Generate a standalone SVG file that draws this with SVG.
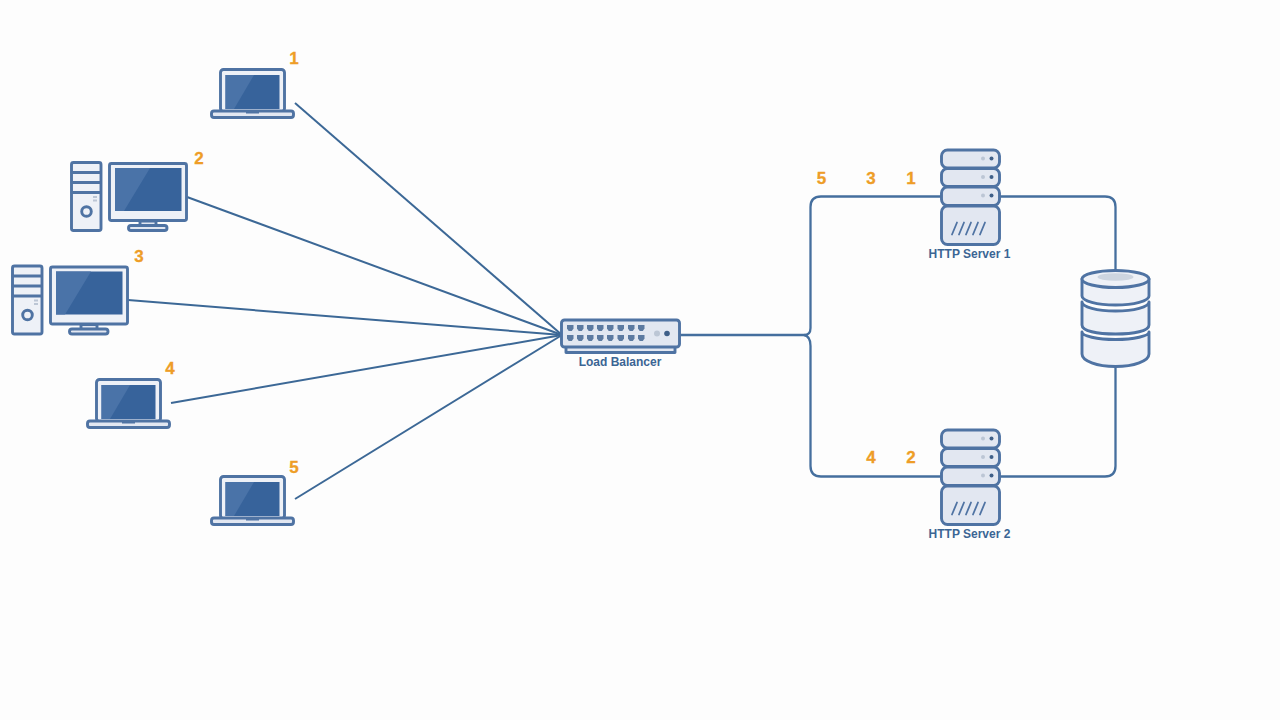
<svg xmlns="http://www.w3.org/2000/svg" width="1280" height="720" viewBox="0 0 1280 720">
<style>
.o{stroke:#4f73a3;stroke-width:2.9;stroke-linejoin:round;stroke-linecap:round}
.f{fill:#eef1f7}
.m{fill:#e2e7f1}
.c{fill:none;stroke:#3c6896;stroke-width:2}
.r{fill:none;stroke:#456f9e;stroke-width:2.3}
.n{font:bold 17px "Liberation Sans",Arial,sans-serif;fill:#ee9d27;stroke:#ee9d27;stroke-width:.3;text-anchor:middle}
.l{font:bold 12px "Liberation Sans",Arial,sans-serif;fill:#3b6594;text-anchor:middle}
.s{fill:#37639b}
.h{fill:#4a73a8}
.d{fill:#3f5f88}
.g{fill:#bcc6d5}
</style>
<defs>
<g id="laptop">
<rect class="o f" x="220.500" y="69.500" width="64" height="42" rx="3"/>
<rect class="s" x="225.500" y="75" width="54" height="34"/>
<path class="h" d="M225.500 75H254L234 109H225.500Z"/>
<rect class="o m" x="211.500" y="111" width="82" height="6.500" rx="2.500"/>
<rect x="246" y="111" width="13" height="2.500" fill="#4f73a3"/>
</g>
<g id="desktop">
<rect class="o f" x="71.500" y="162.500" width="29.500" height="68" rx="2"/>
<path class="o" d="M72 172.500H100M72 182.500H100M72 192.500H100" fill="none"/>
<circle class="o" cx="86.500" cy="211.500" r="4.800" fill="#eef1f7"/>
<rect class="g" x="93" y="196" width="4" height="2"/>
<rect class="g" x="93" y="199.500" width="4" height="2"/>
<rect class="o f" x="109.500" y="163.500" width="77" height="57" rx="2"/>
<rect class="s" x="115" y="168" width="66.500" height="43"/>
<path class="h" d="M115 168H150L124 211H115Z"/>
<rect class="o m" x="140" y="221" width="16" height="5"/>
<rect class="o m" x="128.500" y="225.500" width="38.500" height="5" rx="2.500"/>
</g>
<g id="port"><path d="M0 0H6.500V3.500L4.800 6H1.700L0 3.500Z" fill="#5c7aa1"/></g>
<g id="server">
<rect class="o m" x="941.500" y="150" width="58" height="18" rx="6"/>
<rect class="o m" x="941.500" y="168.500" width="58" height="18" rx="6"/>
<rect class="o m" x="941.500" y="187" width="58" height="18.500" rx="6"/>
<rect class="o m" x="941.500" y="206" width="58" height="38.500" rx="6"/>
<circle class="g" cx="983" cy="158.500" r="2"/><circle class="d" cx="991.500" cy="158.500" r="2"/>
<circle class="g" cx="983" cy="177" r="2"/><circle class="d" cx="991.500" cy="177" r="2"/>
<circle class="g" cx="983" cy="195.500" r="2"/><circle class="d" cx="991.500" cy="195.500" r="2"/>
<path d="M952 234.500L957 222.500M959 234.500L964 222.500M966 234.500L971 222.500M973 234.500L978 222.500M980 234.500L985 222.500" stroke="#4f73a3" stroke-width="1.800" stroke-linecap="round" fill="none"/>
</g>
</defs>
<rect width="1280" height="720" fill="#fdfdfd"/>

<g id="connectors">
<path class="c" d="M295 103L562 335"/>
<path class="c" d="M187 197L562 335"/>
<path class="c" d="M128 300L562 335"/>
<path class="c" d="M171 403L562 335"/>
<path class="c" d="M295 499L562 335"/>
<path class="r" d="M680 335H804Q810.500 335 810.500 328V207Q810.500 196.500 821 196.500H941"/>
<path class="r" d="M804 335Q810.500 336 810.500 346V466Q810.500 476.500 821 476.500H941"/>
<path class="r" d="M1000 196.500H1105Q1115.500 196.500 1115.500 207V270"/>
<path class="r" d="M1000 476.500H1105Q1115.500 476.500 1115.500 466V366"/>
</g>

<g id="client-1"><use href="#laptop"/><text class="n" x="294" y="64">1</text></g>
<g id="client-2"><use href="#desktop"/><text class="n" x="199" y="163.500">2</text></g>
<g id="client-3"><use href="#desktop" x="-59" y="103.500"/><text class="n" x="139" y="262">3</text></g>
<g id="client-4"><use href="#laptop" x="-124" y="310"/><text class="n" x="170" y="374">4</text></g>
<g id="client-5"><use href="#laptop" y="407"/><text class="n" x="294" y="473">5</text></g>

<g id="load-balancer">
<rect class="o m" x="566" y="346" width="109" height="6.500"/>
<rect class="o m" x="561.500" y="320" width="118" height="27" rx="3"/>
<g>
<use href="#port" x="567" y="325"/><use href="#port" x="577" y="325"/><use href="#port" x="587" y="325"/><use href="#port" x="597" y="325"/><use href="#port" x="607" y="325"/><use href="#port" x="617.500" y="325"/><use href="#port" x="628" y="325"/><use href="#port" x="638" y="325"/>
<use href="#port" x="567" y="335"/><use href="#port" x="577" y="335"/><use href="#port" x="587" y="335"/><use href="#port" x="597" y="335"/><use href="#port" x="607" y="335"/><use href="#port" x="617.500" y="335"/><use href="#port" x="628" y="335"/><use href="#port" x="638" y="335"/>
</g>
<circle class="g" cx="657" cy="333.500" r="3"/><circle class="d" cx="667" cy="333.500" r="2.800"/>
<text class="l" x="620" y="365.500">Load Balancer</text>
</g>

<g id="http-server-1"><use href="#server"/><text class="l" x="969.500" y="257.500">HTTP Server 1</text></g>
<g id="http-server-2"><use href="#server" y="280"/><text class="l" x="969.500" y="537.500">HTTP Server 2</text></g>

<g id="database">
<path class="o f" d="M1082 332V354C1082 361 1097 366.500 1115.500 366.500S1149 361 1149 354V332C1149 336 1134 339.500 1115.500 339.500S1082 336 1082 332Z"/>
<path class="o f" d="M1082 302V325C1082 331 1097 334 1115.500 334S1149 331 1149 325V302C1149 307 1134 311 1115.500 311S1082 307 1082 302Z"/>
<path class="o f" d="M1082 279V296C1082 301 1097 305 1115.500 305S1149 301 1149 296V279Z"/>
<ellipse class="o f" cx="1115.500" cy="279" rx="33.500" ry="8.500"/>
<ellipse cx="1115.500" cy="277" rx="18" ry="3.800" fill="#cdd5e0"/>
</g>

<g id="sequence-labels">
<text class="n" x="821.500" y="184">5</text>
<text class="n" x="871" y="184">3</text>
<text class="n" x="911" y="184">1</text>
<text class="n" x="871" y="463">4</text>
<text class="n" x="911" y="463">2</text>
</g>
</svg>
